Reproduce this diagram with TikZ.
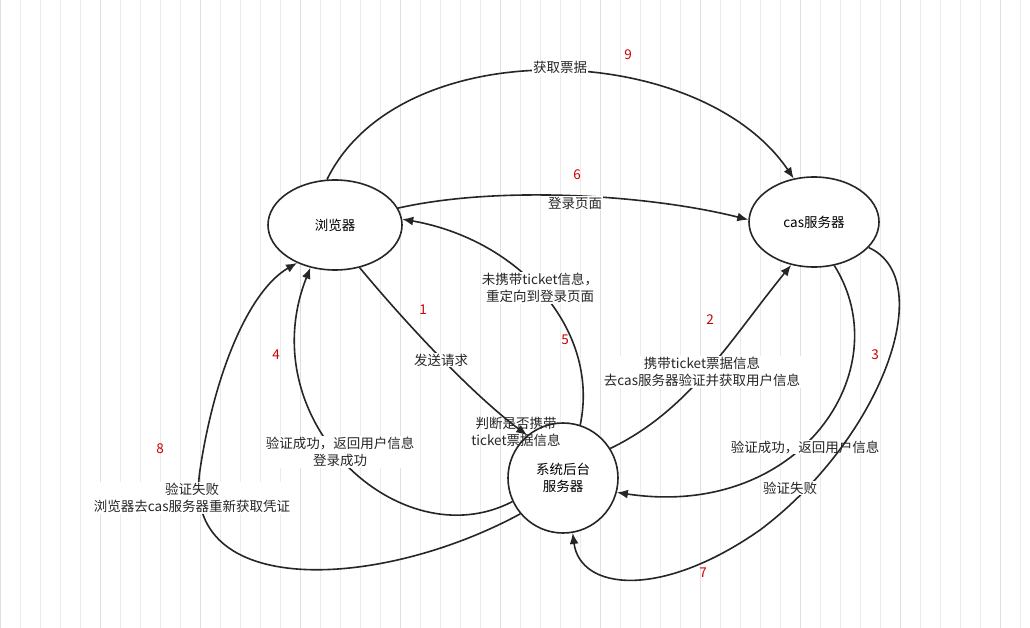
\documentclass[tikz,border=0pt]{standalone}
\usepackage{fontspec}
\setmainfont{Noto Sans CJK SC}
\usetikzlibrary{shapes.geometric,arrows.meta}
\begin{document}
\begin{tikzpicture}[x=1pt,y=-1pt,
  every node/.style={font=\fontsize{13.5}{17}\selectfont},
  st/.style={draw=black!85,line width=1.6pt,fill=white},
  edge/.style={draw=black!85,line width=1.6pt,-{Latex[length=11pt,width=9pt]}},
  plain/.style={draw=black!85,line width=1.6pt},
  lab/.style={fill=white,inner sep=1pt,align=center,text=black!85},
  num/.style={text=red!80!black}]
\useasboundingbox (0,0) rectangle (1030,628);
\fill[white] (0,0) rectangle (1030,628);
\draw[black!8,line width=0.6pt] (0,0) grid[step=20] (1030,628);
\draw[black!12,line width=0.8pt] (0,0) grid[step=100] (1030,628);
\node[st,ellipse,minimum width=134,minimum height=90] (b) at (335,225) {浏览器};
\node[st,ellipse,minimum width=130,minimum height=90] (c) at (814,222) {cas服务器};
\node[st,circle,minimum size=110,align=center,inner sep=0] (s) at (563,478) {系统后台\\服务器};
% 9
\draw[edge] (b.100) .. controls (400,30) and (700,40) .. (c.115);
\node[lab] at (560,67) {获取票据}; \node[num] at (628,55) {9};
% 6
\draw[edge] (b.15) .. controls (500,185) and (650,195) .. (c.178);
\node[lab] at (575,203) {登录页面}; \node[num] at (577,175) {6};
% 1
\draw[edge] (b.300) .. controls (420,340) and (480,400) .. (s.130);
\node[lab] at (441,360) {发送请求}; \node[num] at (423,310) {1};
% 5
\draw[edge] (s.72) .. controls (600,330) and (520,240) .. (b.5);
\node[lab] at (540,288) {未携带ticket信息，\\重定向到登录页面}; \node[num] at (565,340) {5};
% 2
\draw[edge] (s.32) .. controls (690,410) and (730,340) .. (c.242);
\node[lab] at (702,372) {携带ticket票据信息\\去cas服务器验证并获取用户信息}; \node[num] at (710,320) {2};
% 3
\draw[edge] (c.295) .. controls (900,370) and (800,520) .. (s.-15);
\node[lab] at (805,447) {验证成功，返回用户信息}; \node[num] at (875,355) {3};
% 7
\draw[edge] (c.-25) .. controls (940,280) and (880,440) .. (760,530) .. controls (660,600) and (580,590) .. (s.-80);
\node[lab] at (790,488) {验证失败}; \node[num] at (703,573) {7};
% 4
\draw[edge] (s.205) .. controls (400,560) and (250,420) .. (b.240);
\node[lab] at (340,452) {验证成功，返回用户信息\\登录成功}; \node[num] at (276,355) {4};
% 8
\draw[edge] (s.220) .. controls (380,590) and (180,600) .. (200,470) .. controls (215,370) and (250,290) .. (b.225);
\node[lab] at (192,498) {验证失败\\浏览器去cas服务器重新获取凭证}; \node[num] at (160,449) {8};
\node[lab,fill=none] at (516,432) {判断是否携带\\ticket票据信息};
\end{tikzpicture}
\end{document}
